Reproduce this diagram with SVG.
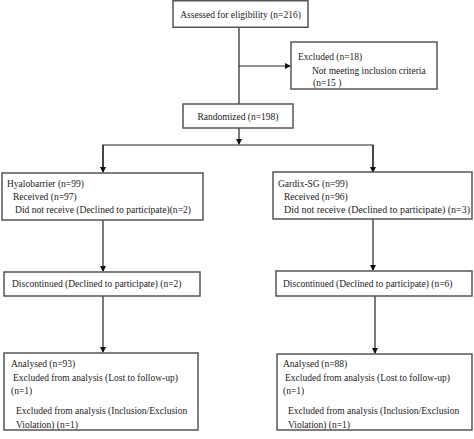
<svg xmlns="http://www.w3.org/2000/svg" width="474" height="439" viewBox="0 0 474 439">
<defs>
<marker id="arr" markerWidth="6" markerHeight="6" refX="5" refY="3" orient="auto" markerUnits="userSpaceOnUse">
<path d="M0,0 L6,3 L0,6 z" fill="#111"/>
</marker>
<style>
.box{fill:#fff;stroke:#555;stroke-width:1.5}
.ln{fill:none;stroke:#222;stroke-width:1.2}
text{font-family:"Liberation Serif","Times New Roman",serif;font-size:9.5px;fill:#222}
</style>
</defs>
<rect width="474" height="439" fill="#fff"/>
<g id="connectors">
<line class="ln" x1="239" y1="27" x2="239" y2="104"/>
<line class="ln" x1="239" y1="66" x2="290" y2="66" marker-end="url(#arr)"/>
<line class="ln" x1="239" y1="128" x2="239" y2="144" marker-end="url(#arr)"/>
<polyline class="ln" points="103,172 103,145 373,145 373,172"/>
<line class="ln" x1="103" y1="145" x2="103" y2="172" marker-end="url(#arr)"/>
<line class="ln" x1="373" y1="145" x2="373" y2="172" marker-end="url(#arr)"/>
<line class="ln" x1="103" y1="220" x2="103" y2="271" marker-end="url(#arr)"/>
<line class="ln" x1="373" y1="219" x2="373" y2="270" marker-end="url(#arr)"/>
<line class="ln" x1="103" y1="296" x2="103" y2="352" marker-end="url(#arr)"/>
<line class="ln" x1="375" y1="296" x2="375" y2="353" marker-end="url(#arr)"/>
</g>
<g id="assessed">
<rect class="box" x="173" y="0.75" width="135" height="26.5"/>
<text x="240.5" y="18" text-anchor="middle">Assessed for eligibility (n=216)</text>
</g>
<g id="excluded">
<rect class="box" x="291" y="42" width="146" height="47"/>
<text x="298" y="60">Excluded  (n=18)</text>
<text x="312" y="74">Not meeting inclusion criteria</text>
<text x="313" y="86">(n=15 )</text>
</g>
<g id="randomized">
<rect class="box" x="183" y="104" width="110" height="24"/>
<text x="238" y="119.5" text-anchor="middle">Randomized (n=198)</text>
</g>
<g id="hyalobarrier">
<rect class="box" x="2" y="173" width="201" height="47"/>
<text x="7" y="187">Hyalobarrier (n=99)</text>
<text x="13" y="200">Received (n=97)</text>
<text x="15" y="213" textLength="176" lengthAdjust="spacingAndGlyphs">Did not receive (Declined to participate)(n=2)</text>
</g>
<g id="gardix">
<rect class="box" x="273" y="172" width="199" height="47"/>
<text x="278" y="187">Gardix-SG (n=99)</text>
<text x="284" y="200">Received (n=96)</text>
<text x="284" y="213" textLength="186" lengthAdjust="spacingAndGlyphs">Did not receive (Declined to participate) (n=3)</text>
</g>
<g id="disc-left">
<rect class="box" x="4" y="272" width="196" height="24"/>
<text x="12" y="287">Discontinued (Declined to participate) (n=2)</text>
</g>
<g id="disc-right">
<rect class="box" x="276" y="271" width="196" height="25"/>
<text x="283" y="287">Discontinued (Declined to participate) (n=6)</text>
</g>
<g id="analysed-left">
<rect class="box" x="4" y="353" width="194" height="77"/>
<text x="11" y="367">Analysed (n=93)</text>
<text x="13" y="381">Excluded from analysis (Lost to follow-up)</text>
<text x="11" y="394">(n=1)</text>
<text x="16" y="414">Excluded from analysis (Inclusion/Exclusion</text>
<text x="16" y="428">Violation) (n=1)</text>
</g>
<g id="analysed-right">
<rect class="box" x="277" y="354" width="195" height="76"/>
<text x="283" y="367">Analysed (n=88)</text>
<text x="285" y="381">Excluded from analysis (Lost to follow-up)</text>
<text x="283" y="394">(n=1)</text>
<text x="288" y="414">Excluded from analysis (Inclusion/Exclusion</text>
<text x="288" y="428">Violation) (n=1)</text>
</g>
</svg>
